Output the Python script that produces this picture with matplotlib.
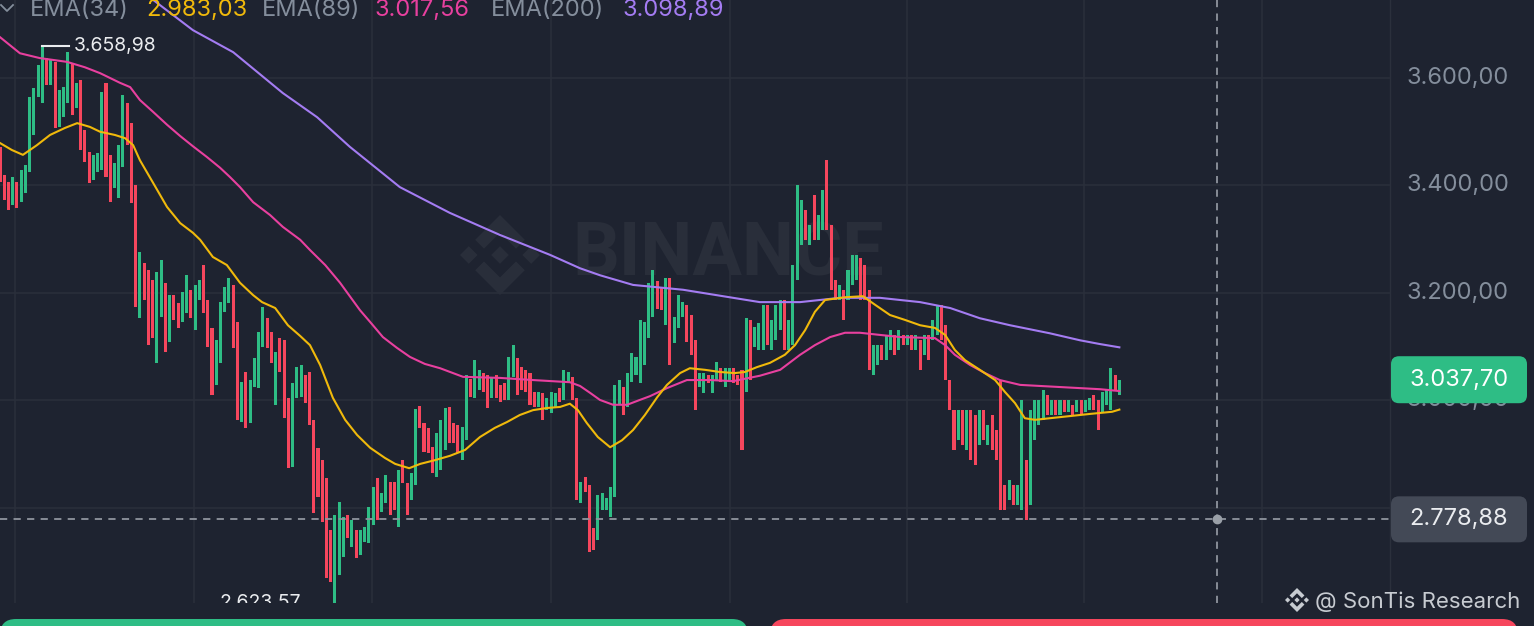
import matplotlib
matplotlib.use("Agg")
import matplotlib.pyplot as plt
from matplotlib.patches import FancyBboxPatch, Polygon
import numpy as np

# ---------------- data ----------------
opens = [
    3472, 3419, 3406, 3364, 3406, 3369, 3386, 3425, 3494, 3565,
    3553, 3637, 3587, 3630, 3509, 3527, 3553, 3628, 3544, 3596,
    3503, 3462, 3410, 3425, 3429, 3591, 3457, 3395, 3377, 3434,
    3553, 3516, 3401, 3153, 3256, 3243, 3224, 3070, 3155, 3218,
    3109, 3196, 3181, 3146, 3163, 3205, 3131, 3187, 3252, 3187,
    3135, 3029, 3070, 3164, 3181, 3215, 3146, 2960, 3053, 2958,
    3025, 3023, 3099, 3153, 3127, 2991, 3116, 3112, 3004, 2876,
    3004, 3006, 3047, 3053, 2964, 2912, 2889, 2856, 2759, 2623.57,
    2675, 2709, 2787, 2727, 2759, 2712, 2737, 2735, 2768, 2856,
    2792, 2809, 2848, 2848, 2765, 2889, 2846, 2815, 2843, 2990,
    2958, 2949, 2913, 2858, 2871, 2908, 2988, 2958, 2954, 2889,
    2926, 3040, 3004, 3019, 3051, 3047, 3004, 3047, 3029, 3032,
    3001, 3044, 3079, 3062, 3057, 3051, 3016, 2988, 3014, 2982,
    2977, 2986, 3023, 3001, 3032, 3044, 3004, 2809, 2858, 2843,
    2763, 2740, 2796, 2796, 2783, 2820, 2991, 3025, 2988, 3034,
    3047, 3032, 3066, 3116, 3155, 3222, 3211, 3140, 3228, 3107,
    3135, 3155, 3178, 3159, 3112, 3025, 3014, 3047, 3014, 3038,
    3060, 3025, 3034, 3060, 3047, 3057, 3016, 3150, 3099, 3094,
    3094, 3178, 3094, 3112, 3131, 3187, 3094, 3103, 3224, 3289,
    3354, 3289, 3382, 3298, 3317, 3447, 3326, 3224, 3187, 3205,
    3187, 3215, 3224, 3265, 3252, 3205, 3047, 3066, 3103, 3075,
    3094, 3122, 3094, 3122, 3103, 3122, 3094, 3112, 3085, 3122,
    3112, 3122, 3178, 3140, 3038, 2982, 2926, 2982, 2908, 2982,
    2973, 2917, 2982, 2917, 2973, 2945, 3038, 2843, 2815, 2843,
    2806, 2796, 2889, 2806, 2926, 2954, 2964, 3010, 2973, 3001,
    2973, 3001, 2978, 2992, 2978, 3001, 2978, 2982, 3010, 3001,
    2978, 2992, 2982, 3047, 3010,
]
closes = [
    3406, 3373, 3354, 3416, 3358, 3429, 3438, 3565, 3581, 3624,
    3658.98, 3587, 3633, 3507, 3578, 3583, 3648, 3531, 3591, 3466,
    3444, 3405, 3457, 3460, 3574, 3416, 3369, 3442, 3475, 3568,
    3475, 3367, 3174, 3276, 3187, 3103, 3116, 3239, 3261, 3090,
    3196, 3150, 3135, 3202, 3233, 3153, 3215, 3224, 3163, 3099,
    3010, 3112, 3183, 3211, 3228, 3098, 2964, 3034, 2949, 3038,
    3079, 3127, 3174, 3098, 3070, 3090, 3053, 2967, 2874, 3032,
    3062, 3066, 2995, 2954, 2791, 2820, 2774, 2670, 2662, 2787,
    2811, 2783, 2744, 2778, 2707, 2759, 2765, 2802, 2839, 2778,
    2828, 2861, 2787, 2796, 2871, 2846, 2787, 2865, 2984, 2949,
    2904, 2902, 2865, 2939, 2964, 2986, 2921, 2921, 2902, 2951,
    3047, 3006, 3075, 3057, 3016, 2986, 3042, 3004, 2997, 3001,
    3081, 3103, 3010, 3019, 3016, 2991, 2988, 3016, 2964, 3004,
    3016, 3014, 2997, 3057, 3053, 3001, 2815, 2848, 2830, 2718,
    2722, 2824, 2828, 2818, 2839, 3029, 3038, 2973, 3051, 3088,
    3081, 3150, 3146, 3218, 3243, 3170, 3168, 3228, 3066, 3155,
    3196, 3183, 3109, 3085, 2982, 3051, 3051, 3032, 3047, 3072,
    3034, 3060, 3060, 3032, 3029, 2908, 3153, 3038, 3137, 3144,
    3178, 3103, 3150, 3178, 3187, 3094, 3150, 3252, 3401, 3373,
    3298, 3326, 3298, 3345, 3391, 3317, 3205, 3187, 3215, 3150,
    3243, 3271, 3271, 3187, 3187, 3057, 3103, 3103, 3075, 3122,
    3131, 3085, 3131, 3103, 3122, 3094, 3122, 3057, 3122, 3075,
    3150, 3178, 3112, 3038, 2982, 2908, 2982, 2917, 2982, 2889,
    2880, 2982, 2926, 2954, 2908, 2889, 2796, 2796, 2852, 2806,
    2843, 3001, 2778, 2982, 3001, 3001, 3019, 2973, 3001, 2973,
    3001, 2978, 3001, 2973, 3001, 2973, 3001, 3004, 2982, 2945,
    3016, 3019, 3060, 3019, 3037.70,
]

ema34_x = [0, 2.8, 5.4, 8.7, 11.8, 15.3, 18.2, 21.2, 23.6, 27.1, 29.5, 31.4, 33.0, 36.1,
           39.4, 42.5, 45.5, 47.2, 50.2, 53.5, 56.6, 59.7, 61.8, 64.9, 67.9, 70.8, 73.1,
           75.5, 78.5, 81.4, 84.2, 87.3, 90.8, 93.2, 96.5, 99.1, 102.6, 106.1, 109.7,
           113.2, 116.7, 119.6, 122.6, 125.7, 129.0, 132.1, 134.4, 136.3, 138.4, 141.0,
           143.9, 146.7, 149.3, 152.1, 155.0, 157.3, 160.4, 162.7, 166.3, 169.8, 173.3,
           175.7, 178.5, 181.6, 185.1, 187.5, 189.9, 192.2, 194.6, 199.3, 203.5, 206.4,
           209.9, 213.4, 217.0, 220.5, 222.9, 225.2, 227.6, 231.1, 234.7, 237.0, 239.4,
           241.7, 244.1, 250.0, 257.1, 262.3, 264]
ema34 = [3479, 3466, 3457, 3475, 3494, 3507, 3516, 3509, 3500, 3494, 3488, 3475, 3447, 3405,
         3360, 3330, 3312, 3299, 3267, 3252, 3219, 3196, 3183, 3172, 3140, 3120, 3103,
         3066, 3005, 2964, 2936, 2912, 2893, 2882, 2874, 2882, 2889, 2897, 2908,
         2932, 2949, 2960, 2973, 2982, 2986, 2988, 2994, 2982, 2958, 2932,
         2913, 2926, 2945, 2973, 3006, 3029, 3051, 3060, 3057, 3053, 3051,
         3053, 3062, 3070, 3085, 3103, 3131, 3165, 3187, 3192, 3194, 3178,
         3159, 3150, 3140, 3135, 3122, 3094, 3075, 3057, 3038, 3016, 2995,
         2967, 2964, 2969, 2975, 2979, 2983.03]

ema89_x = [0, 4.7, 9.4, 15.8, 20.0, 23.6, 28.3, 30.7, 33.0, 36.1, 39.4, 42.5, 45.5, 48.8,
           51.9, 54.2, 56.6, 59.7, 63.7, 66.7, 70.8, 73.1, 76.7, 80.2, 82.5, 84.9, 87.3,
           90.3, 93.6, 96.7, 100.2, 103.8, 109.2, 117.9, 125.7, 134.4, 136.8, 139.2,
           141.5, 144.6, 147.9, 150.9, 153.3, 157.3, 162.0, 167.5, 172.9, 179.2, 184.0,
           188.7, 192.2, 195.8, 199.3, 202.8, 207.5, 212.3, 220.5, 222.9, 225.2, 228.8,
           232.3, 235.8, 240.6, 245.3, 250.0, 254.7, 259.4, 264]
ema89 = [3676, 3646, 3637, 3630, 3620, 3609, 3591, 3583, 3559, 3537, 3513, 3492, 3473, 3453,
         3433, 3416, 3397, 3369, 3345, 3323, 3299, 3280, 3252, 3219, 3194, 3168, 3146,
         3118, 3098, 3081, 3068, 3060, 3044, 3042, 3038, 3034, 3027, 3014,
         3001, 2992, 2992, 3001, 3008, 3023, 3038, 3038, 3036, 3046, 3057,
         3085, 3103, 3118, 3126, 3126, 3122, 3118, 3116, 3103, 3085, 3066,
         3051, 3038, 3029, 3027, 3025, 3023, 3021, 3017.56]

ema200_x = [33.0, 45.5, 55.0, 66.7, 74.8, 82.5, 94.3, 106.1, 117.9, 129.7, 136.8, 141.5,
            149.3, 161.1, 172.9, 179.2, 188.7, 198.1, 207.5, 217.0, 224.1, 231.1, 238.2,
            247.6, 254.7, 259.4, 264]
ema200 = [3764, 3689, 3648, 3572, 3527, 3472, 3397, 3349, 3308, 3271, 3246, 3233,
          3215, 3206, 3191, 3183, 3183, 3191, 3191, 3183, 3172, 3153, 3140,
          3125, 3112, 3105, 3098.89]

price_grid = [2800, 3000, 3200, 3400, 3600]
price_labels = [3000, 3200, 3400, 3600]
time_grid = [3.5, 45.7, 87.7, 130.0, 172.2, 213.9, 255.7, 297.6]
high_idx, high_price = 10, 3658.98
low_idx, low_price = 79, 2623.57
cross_idx, cross_price = 287.0, 2778.88
legend_names = ["EMA(34)", "EMA(89)", "EMA(200)"]
legend_values = [2983.03, 3017.56, 3098.89]

# ---------------- style ----------------
W, H = 1534, 626
BG = "#1e2330"
GRID = "#2a2f3b"
GREEN = "#2ebd85"
RED = "#f6465d"
YEL = "#f0b90b"
PINK = "#e8409f"
PURP = "#a47cf2"
GRAY = "#848e9c"
FONT = ["Inter", "DejaVu Sans"]
plt.rcParams["font.family"] = FONT


def fmt(v):
    s = f"{v:,.2f}"
    return s.replace(",", "X").replace(".", ",").replace("X", ".")


fig = plt.figure(figsize=(W / 100, H / 100), dpi=100)
fig.patch.set_facecolor(BG)

AX_R, AX_B = 1390, 603
ax = fig.add_axes([0, 1 - AX_B / H, AX_R / W, AX_B / H])
ax.set_facecolor(BG)
ax.set_xlim(0, AX_R / 4.24)
ax.set_ylim(2623.2, 3745.1)
for s in ax.spines.values():
    s.set_visible(False)
ax.set_xticks([])
ax.set_yticks([])

ov = fig.add_axes([0, 0, 1, 1])
ov.set_xlim(0, W)
ov.set_ylim(H, 0)
ov.axis("off")
ov.patch.set_alpha(0)
ov.set_zorder(5)


def py(price):
    return H - ax.transData.transform((0, price))[1]


def pxi(i):
    return ax.transData.transform((i, 0))[0]


# grid
for p in price_grid:
    ax.axhline(p, color=GRID, lw=1.1, zorder=0)
for g in time_grid:
    ax.axvline(g, color=GRID, lw=1.1, zorder=0)

# watermark (drawn in pixel space but inside main axes, under candles)
wm = "#292e3a"
cx, cy, s = 500, 255, 40
shapes = [
    [(0, -1), (0.62, -0.38), (0.4, -0.16), (0, -0.56), (-0.4, -0.16), (-0.62, -0.38)],
    [(0, 1), (0.62, 0.38), (0.4, 0.16), (0, 0.56), (-0.4, 0.16), (-0.62, 0.38)],
    [(0, -0.22), (0.22, 0), (0, 0.22), (-0.22, 0)],
    [(0.78, -0.22), (1.0, 0), (0.78, 0.22), (0.56, 0)],
    [(-0.78, -0.22), (-1.0, 0), (-0.78, 0.22), (-0.56, 0)],
]
for sh in shapes:
    ax.add_patch(Polygon([(cx + s * a, cy + s * b) for a, b in sh], closed=True,
                         fc=wm, ec="none", transform=ov.transData, zorder=1))
ax.text(728, 255, "BINANCE", transform=ov.transData, ha="center", va="center",
        fontsize=53, fontweight="bold", color=wm, zorder=1, family=["Roboto", "DejaVu Sans"])

# candles
o = np.array(opens, dtype=float)
c = np.array(closes, dtype=float)
idx = np.arange(len(o))
up = c >= o
ax.bar(idx, np.abs(c - o), bottom=np.minimum(o, c), width=0.72,
       color=np.where(up, GREEN, RED), linewidth=0, zorder=3)

# EMAs
ax.plot(ema200_x, ema200, color=PURP, lw=1.5, zorder=4, solid_joinstyle="round")
ax.plot(ema89_x, ema89, color=PINK, lw=1.5, zorder=4, solid_joinstyle="round")
ax.plot(ema34_x, ema34, color=YEL, lw=1.5, zorder=4, solid_joinstyle="round")

# crosshair
ax.axhline(cross_price, color="#8f959e", lw=1.3, ls=(0, (4, 3.5)), zorder=5)
ax.axvline(cross_idx, color="#8f959e", lw=1.3, ls=(0, (4, 3.5)), zorder=5)
ax.plot([cross_idx], [cross_price], "o", ms=6, color="#9aa0a8", zorder=6)

# low label (clipped by the plot bottom)
ax.text(low_idx - 8, low_price, fmt(low_price), ha="right", va="center",
        fontsize=14, color="#eaecef", zorder=6, clip_on=True)

# high label
hy = py(high_price)
ov.plot([pxi(high_idx), pxi(high_idx) + 27], [hy, hy], color="#eaecef", lw=1.5)
ov.text(pxi(high_idx) + 31, hy, fmt(high_price), ha="left", va="center",
        fontsize=14, color="#eaecef")

# price axis separator & labels
ov.plot([AX_R, AX_R], [0, AX_B], color="#2b303c", lw=1, zorder=1)
for p in price_labels:
    ov.text(1458, py(p), fmt(p), ha="center", va="center", fontsize=17, color=GRAY, zorder=2)

lp = closes[-1]
ov.add_patch(FancyBboxPatch((1391, py(lp) - 24), 136, 47,
                            boxstyle="round,pad=0,rounding_size=8", fc=GREEN, ec="none",
                            zorder=6))
ov.text(1459, py(lp), fmt(lp), ha="center", va="center", fontsize=17, color="white",
        zorder=7)
ov.add_patch(FancyBboxPatch((1391, py(cross_price) - 23), 136, 46,
                            boxstyle="round,pad=0,rounding_size=8", fc="#434956", ec="none",
                            zorder=6))
ov.text(1459, py(cross_price), fmt(cross_price), ha="center", va="center",
        fontsize=17, color="#eaecef", zorder=7)

# legend
ov.plot([1, 7, 13], [5, 11, 5], color=GRAY, lw=1.3)
lx = [30, 146, 262, 375, 491, 622]
cols = [YEL, PINK, PURP]
for k in range(3):
    ov.text(lx[2 * k], 16, legend_names[k], ha="left", va="baseline", fontsize=17, color=GRAY)
    ov.text(lx[2 * k + 1], 16, fmt(legend_values[k]), ha="left", va="baseline",
            fontsize=17, color=cols[k])

# bottom buttons
ov.add_patch(FancyBboxPatch((0, 619), 748, 40, boxstyle="round,pad=0,rounding_size=16",
                            fc=GREEN, ec="none"))
ov.add_patch(FancyBboxPatch((770, 619), 748, 40, boxstyle="round,pad=0,rounding_size=16",
                            fc=RED, ec="none"))

# credit
cx, cy, s = 1297, 600, 12
for sh in shapes:
    ov.add_patch(Polygon([(cx + s * a, cy + s * b) for a, b in sh], closed=True,
                         fc="#c7cbd1", ec="none"))
ov.text(1315, 608, "@ SonTis Research", ha="left", va="baseline", fontsize=16,
        color="#c7cbd1")

fig.savefig("out.png", dpi=100, facecolor=BG)
